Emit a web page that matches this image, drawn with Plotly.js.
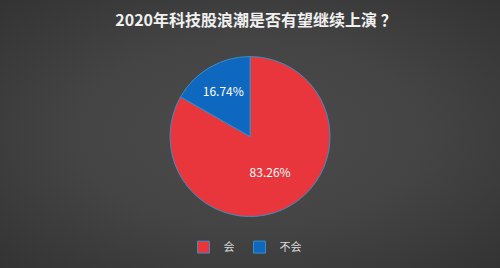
<!DOCTYPE html>
<html>
<head>
<meta charset="utf-8">
<script src="https://cdn.plot.ly/plotly-3.0.1.min.js"></script>
<style>
html,body{margin:0;padding:0;}
body{width:500px;height:268px;background:radial-gradient(ellipse at center,#4b4b4b 0%,#444 50%,#333 100%);}
#chart{width:500px;height:268px;}
</style>
</head>
<body>
<div id="chart"></div>
<script>
const categories = ["会", "不会"];
const values = [83.26, 16.74];
const textLabels = ["83.26%", "16.74%"];
const colors = ["#e8363c", "#0f68bf"];
const titleText = "2020年科技股浪潮是否有望继续上演 ？";

const font = '"Noto Sans CJK SC", "Noto Sans", sans-serif';

Plotly.newPlot("chart", [{
  type: "pie",
  labels: categories,
  values: values,
  text: textLabels,
  textinfo: "text",
  textposition: "inside",
  insidetextorientation: "horizontal",
  sort: false,
  direction: "clockwise",
  rotation: 0,
  marker: {colors: colors, line: {color: "#3b8dc4", width: 1}},
  textfont: {color: "#ffffff", size: 12, family: font},
  domain: {x: [0, 1], y: [0.192, 0.789]},
  hoverinfo: "none"
}], {
  width: 500, height: 268,
  margin: {l: 0, r: 0, t: 0, b: 0},
  paper_bgcolor: "rgba(0,0,0,0)",
  plot_bgcolor: "rgba(0,0,0,0)",
  title: {text: "<b>" + titleText + "</b>", x: 0.512, xanchor: "center", y: 0.925, yanchor: "middle",
          font: {family: font, size: 16, color: "#f0f0f0"}},
  showlegend: true,
  legend: {orientation: "h", x: 0.49, xanchor: "center", y: 0.078, yanchor: "middle",
           font: {family: font, size: 11, color: "#d9d9d9"}, itemwidth: 30, traceorder: "normal"}
}, {displayModeBar: false, staticPlot: true});
</script>
</body>
</html>
